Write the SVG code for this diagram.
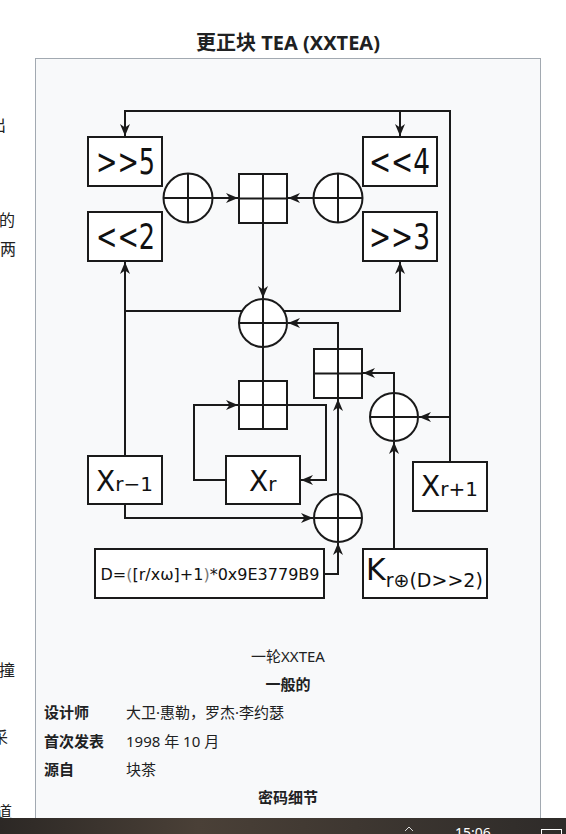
<svg xmlns="http://www.w3.org/2000/svg" width="566" height="834" viewBox="0 0 566 834">
<style>
.box{fill:#fff;stroke:#1a1a1a;stroke-width:2}
.op{fill:#fff;stroke:#1a1a1a;stroke-width:2}
.x{fill:none;stroke:#1a1a1a;stroke-width:2}
.c{fill:none;stroke:#1a1a1a;stroke-width:2}
.a{marker-end:url(#arr)}
.dj{font-family:"DejaVu Sans",sans-serif;fill:#111}
.big{font-size:35px}
.ui{font-family:"Noto Sans","Noto Sans CJK SC",sans-serif;font-size:15px;fill:#202122}
.b{font-weight:bold}
.body{font-family:"Noto Sans","Noto Sans CJK SC",sans-serif;font-size:16px;fill:#202122}
</style>
<defs>
<marker id="arr" markerUnits="userSpaceOnUse" markerWidth="14" markerHeight="12" viewBox="0 -6 13 12" refX="12" refY="0" orient="auto">
<path d="M12,0 L0,-5 L3.5,0 L0,5 Z" fill="#1a1a1a"/>
</marker>
<linearGradient id="tb" x1="0" y1="0" x2="1" y2="0">
<stop offset="0" stop-color="#2c2825"/>
<stop offset="0.35" stop-color="#4a4037"/>
<stop offset="1" stop-color="#2e2b29"/>
</linearGradient>
</defs>
<rect width="566" height="834" fill="#fff"/>
<g id="page-text">
<text class="body" x="-10" y="131">出</text>
<text class="body" x="-1" y="226">的</text>
<text class="body" x="0" y="255">两</text>
<text class="body" x="-1" y="676">撞</text>
<text class="body" x="-8" y="743">采</text>
<text class="body" x="-4" y="818" fill="#3366cc">道</text>
</g>
<g id="infobox">
<rect x="35.5" y="58.5" width="505" height="800" fill="#f8f9fa" stroke="#a2a9b1" stroke-width="1"/>
<text x="288" y="50" text-anchor="middle" font-family="'Noto Sans','Noto Sans CJK SC',sans-serif" font-size="20" font-weight="bold" fill="#202122">更正块 TEA (XXTEA)</text>
<text class="ui" x="288" y="662" text-anchor="middle">一轮XXTEA</text>
<text class="ui b" x="288" y="690" text-anchor="middle">一般的</text>
<text class="ui b" x="44" y="718">设计师</text>
<text class="ui" x="126" y="718" fill="#3366cc">大卫·惠勒，罗杰·李约瑟</text>
<text class="ui b" x="44" y="747">首次发表</text>
<text class="ui" x="126" y="747">1998 年 10 月</text>
<text class="ui b" x="44" y="775">源自</text>
<text class="ui" x="126" y="775" fill="#0b0080">块茶</text>
<text class="ui b" x="288" y="803" text-anchor="middle">密码细节</text>
</g>
<g id="connectors">
<path class="c a" d="M450,462 V111 H125 V136"/>
<path class="c a" d="M400,111 V136"/>
<path class="c a" d="M213,198 H238"/>
<path class="c a" d="M314,198 H288"/>
<path class="c a" d="M263,223 V298"/>
<path class="c a" d="M125,456 V262"/>
<path class="c a" d="M125,311 H400 V262"/>
<path class="c" d="M263,347 V381"/>
<path class="c a" d="M338,349 V323 H288"/>
<path class="c a" d="M394,393 V373 H363"/>
<path class="c a" d="M450,417 H419"/>
<path class="c a" d="M394,549 V442"/>
<path class="c a" d="M338,494 V399"/>
<path class="c a" d="M324,574 H338 V543"/>
<path class="c a" d="M125,504 V518 H313"/>
<path class="c a" d="M287,405 H326 V480 H301"/>
<path class="c a" d="M226,480 H194 V405 H238"/>
</g>
<g id="shr5"><rect class="box" x="88" y="137" width="74" height="49"/><text class="dj big" x="96" y="174" textLength="59" lengthAdjust="spacingAndGlyphs">&gt;&gt;5</text></g>
<g id="shl2"><rect class="box" x="88" y="212" width="74" height="49"/><text class="dj big" x="96" y="249" textLength="59" lengthAdjust="spacingAndGlyphs">&lt;&lt;2</text></g>
<g id="shl4"><rect class="box" x="363" y="137" width="74" height="49"/><text class="dj big" x="369" y="174" textLength="61" lengthAdjust="spacingAndGlyphs">&lt;&lt;4</text></g>
<g id="shr3"><rect class="box" x="363" y="212" width="74" height="49"/><text class="dj big" x="369" y="249" textLength="61" lengthAdjust="spacingAndGlyphs">&gt;&gt;3</text></g>
<g id="xor-left"><circle class="op" cx="188" cy="198" r="24.5"/><path class="x" d="M163.5,198 H212.5 M188,173.5 V222.5"/></g>
<g id="xor-right"><circle class="op" cx="338" cy="198" r="24.5"/><path class="x" d="M313.5,198 H362.5 M338,173.5 V222.5"/></g>
<g id="add-top"><rect class="box" x="239" y="174" width="48" height="49"/><path class="x" d="M239,198.5 H287 M263,174 V223"/></g>
<g id="xor-mid"><circle class="op" cx="263" cy="323" r="24"/><path class="x" d="M239,323 H287 M263,299 V347"/></g>
<g id="add-right"><rect class="box" x="314" y="349" width="48" height="49"/><path class="x" d="M314,373.5 H362 M338,349 V398"/></g>
<g id="xor-key"><circle class="op" cx="394" cy="417" r="24"/><path class="x" d="M370,417 H418 M394,393 V441"/></g>
<g id="add-low"><rect class="box" x="239" y="381" width="48" height="48"/><path class="x" d="M239,405 H287 M263,381 V429"/></g>
<g id="xor-low"><circle class="op" cx="338" cy="518" r="24"/><path class="x" d="M314,518 H362 M338,494 V542"/></g>
<g id="xr-1"><rect class="box" x="88" y="456" width="74" height="48"/><text class="dj" x="96" y="491"><tspan font-size="28">X</tspan><tspan font-size="20">r−1</tspan></text></g>
<g id="xr"><rect class="box" x="226" y="456" width="74" height="48"/><text class="dj" x="249" y="491"><tspan font-size="28">X</tspan><tspan font-size="20">r</tspan></text></g>
<g id="xr1"><rect class="box" x="413" y="462" width="74" height="49"/><text class="dj" x="421" y="496"><tspan font-size="28">X</tspan><tspan font-size="20">r+1</tspan></text></g>
<g id="delta"><rect class="box" x="95" y="549" width="229" height="49"/><text class="dj" x="210" y="580" font-size="16" text-anchor="middle">D=<tspan fill="#777">(</tspan>[r/xω]+1<tspan fill="#777">)</tspan>*0x9E3779B9</text></g>
<g id="key"><rect class="box" x="363" y="549" width="124" height="49"/><text class="dj" x="366" y="580"><tspan font-size="30">K</tspan><tspan font-size="19" dy="7">r⊕(D&gt;&gt;2)</tspan></text></g>
<g id="taskbar">
<rect x="0" y="818" width="566" height="16" fill="url(#tb)"/>
<path d="M405,831 L409,827 L413,831" fill="none" stroke="#ddd" stroke-width="1"/>
<text x="455" y="838" font-family="'Segoe UI','Noto Sans',sans-serif" font-size="14" fill="#fff">15:06</text>
<rect x="541.5" y="829.5" width="20" height="10" fill="none" stroke="#fff" stroke-width="1"/>
</g>
</svg>
